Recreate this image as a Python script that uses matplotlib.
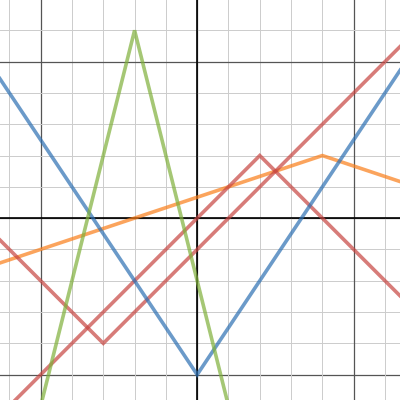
import matplotlib.pyplot as plt
import numpy as np

# polyline vertices (graph units)
green_x = [-5.0, -2.0, 1.0]
green_y = [-6.0, 6.0, -6.0]
blue_x = [-6.6, 0.0, 6.6]
blue_y = [4.9, -5.0, 4.9]
red_v_x = [-6.6, -3.0, 6.6]
red_v_y = [-0.4, -4.0, 5.6]
red_a_x = [-6.0, 2.0, 6.6]
red_a_y = [-6.0, 2.0, -2.6]
orange_x = [-6.6, 4.0, 6.6]
orange_y = [-1.53, 2.0, 1.13]

fig = plt.figure(figsize=(4, 4), dpi=100)
ax = fig.add_axes([0, 0, 1, 1])
ax.set_xlim(-6.3, 6.48)
ax.set_ylim(-5.81, 6.97)

for v in np.arange(-10, 11):
    c = '#555555' if v % 5 == 0 else '#cccccc'
    lw = 0.9 if v % 5 == 0 else 0.7
    ax.axvline(v, color=c, lw=lw, zorder=0)
    ax.axhline(v, color=c, lw=lw, zorder=0)
ax.axvline(0, color='black', lw=1.2, zorder=1)
ax.axhline(0, color='black', lw=1.2, zorder=1)

kw = dict(lw=2.6, alpha=0.7, solid_capstyle='round', solid_joinstyle='miter')
ax.plot(orange_x, orange_y, color='#fa7e19', **kw)
ax.plot(red_v_x, red_v_y, color='#c74440', **kw)
ax.plot(red_a_x, red_a_y, color='#c74440', **kw)
ax.plot(blue_x, blue_y, color='#2d70b3', **kw)
ax.plot(green_x, green_y, color='#7fb03a', **kw)
ax.axis('off')
fig.savefig('out.png', dpi=100)
